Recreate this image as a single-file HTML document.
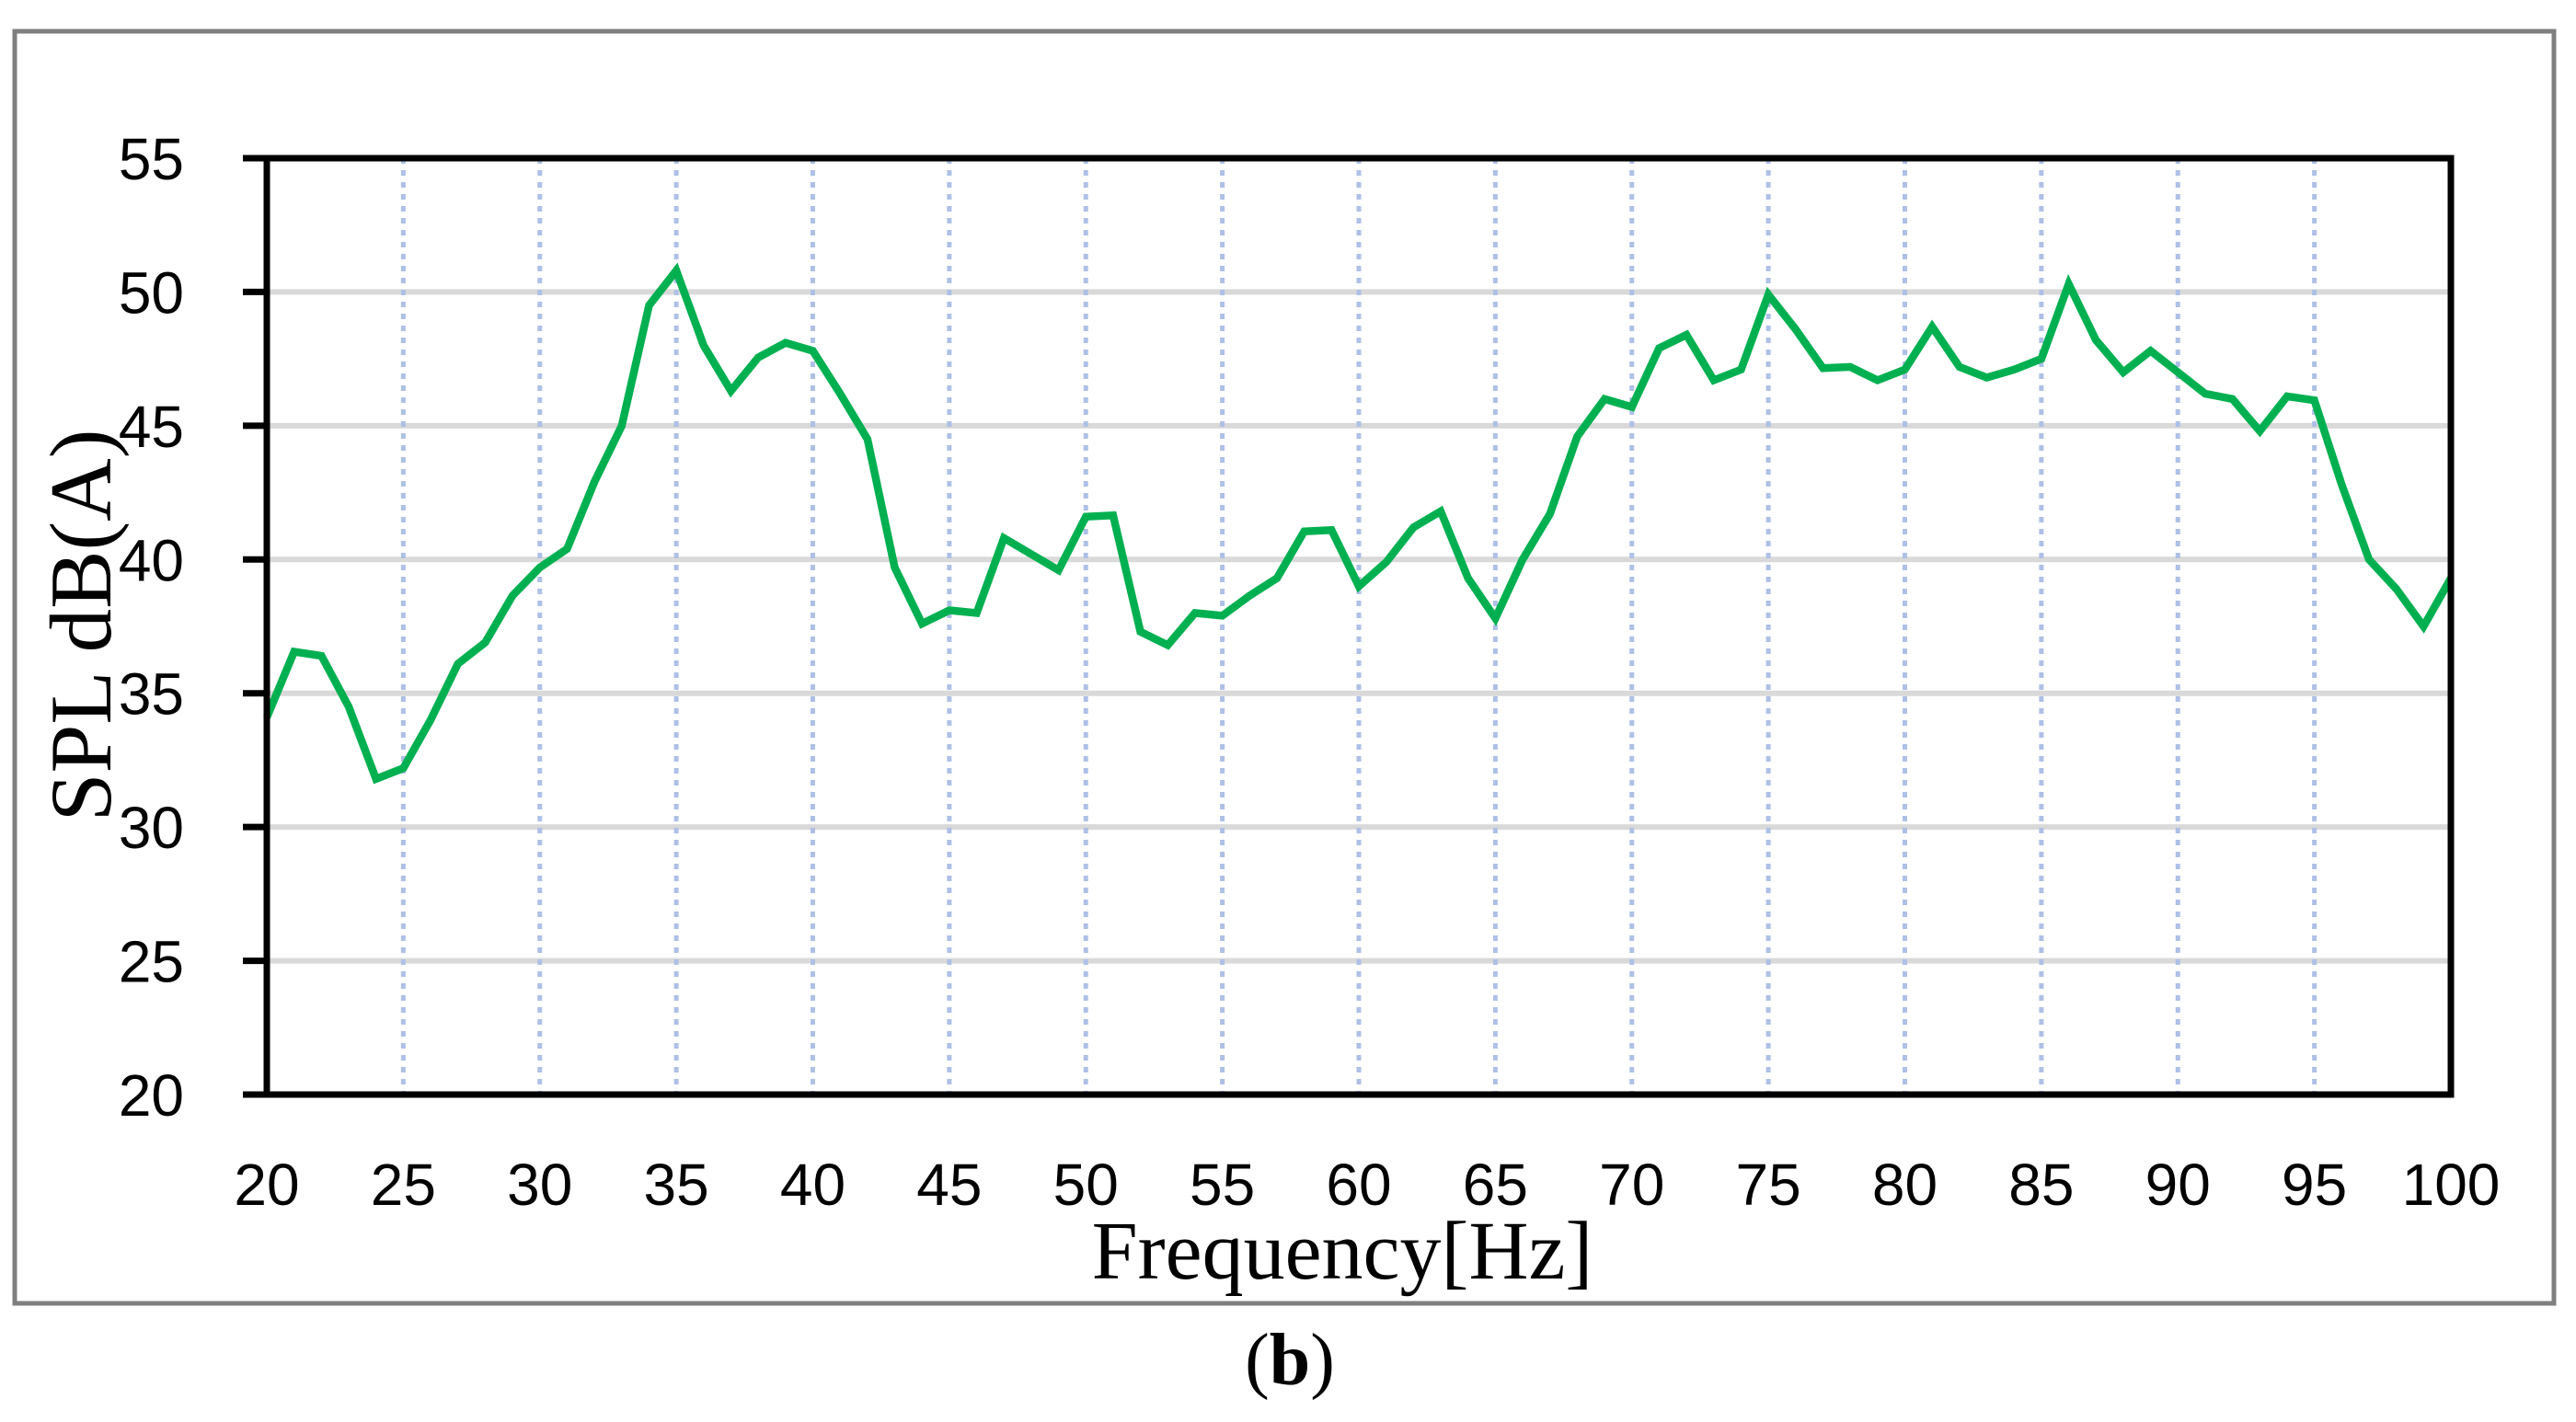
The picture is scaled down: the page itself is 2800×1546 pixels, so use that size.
<!DOCTYPE html>
<html><head><meta charset="utf-8"><style>
html,body{margin:0;padding:0;background:#fff;}
svg{display:block;}
</style></head><body>
<svg id="chart" width="2800" height="1546" viewBox="0 0 2800 1546" xmlns="http://www.w3.org/2000/svg">
<rect x="16" y="34" width="2760" height="1383" fill="#fff" stroke="#7f7f7f" stroke-width="5"/>
<g id="grid"></g>
<g id="series"></g>
<g id="axes"></g>
<text transform="translate(120,680) rotate(-90)" text-anchor="middle" font-family="Liberation Serif, serif" font-size="95">SPL  dB(A)</text>
<text x="1459" y="1390" text-anchor="middle" font-family="Liberation Serif, serif" font-size="90">Frequency[Hz]</text>
<text x="1402" y="1505" text-anchor="middle" font-family="Liberation Serif, serif" font-size="80">(<tspan font-weight="bold">b</tspan>)</text>
</svg>
<script>
const freqs = [20,21,22,23,24,25,26,27,28,29,30,31,32,33,34,35,36,37,38,39,40,41,42,43,44,45,46,47,48,49,50,51,52,53,54,55,56,57,58,59,60,61,62,63,64,65,66,67,68,69,70,71,72,73,74,75,76,77,78,79,80,81,82,83,84,85,86,87,88,89,90,91,92,93,94,95,96,97,98,99,100];
const spl = [34.1,36.55,36.4,34.5,31.8,32.2,34.0,36.1,36.9,38.65,39.7,40.4,42.9,45.0,49.5,50.8,48.0,46.3,47.55,48.1,47.8,46.2,44.5,39.7,37.6,38.1,38.0,40.8,40.2,39.6,41.6,41.65,37.3,36.8,38.0,37.9,38.65,39.3,41.05,41.1,39.0,39.9,41.2,41.8,39.3,37.8,40.0,41.7,44.6,46.0,45.7,47.9,48.4,46.7,47.1,49.9,48.6,47.15,47.2,46.7,47.1,48.7,47.2,46.8,47.1,47.5,50.3,48.2,47.0,47.8,47.0,46.2,46.0,44.8,46.1,45.95,42.8,40.0,38.9,37.5,39.3];
const yTicks = [20,25,30,35,40,45,50,55];
const xTicks = [20,25,30,35,40,45,50,55,60,65,70,75,80,85,90,95,100];

const X0=290, X1=2664, Y0=1190, Y1=172;
const xs = v => X0 + (v-20)/(100-20)*(X1-X0);
const ys = v => Y0 - (v-20)/(55-20)*(Y0-Y1);
const NS='http://www.w3.org/2000/svg';
function mk(tag, attrs, parent){const e=document.createElementNS(NS,tag);for(const k in attrs)e.setAttribute(k,attrs[k]);parent.appendChild(e);return e;}
const grid=document.getElementById('grid'), series=document.getElementById('series'), axes=document.getElementById('axes');

yTicks.forEach(t=>{
  if(t===20||t===55) return;
  const l=mk('line',{x1:X0,x2:X1,y1:ys(t),y2:ys(t),stroke:'#d9d9d9','stroke-width':6},grid);
  
  
});
xTicks.forEach(t=>{
  if(t===20||t===100) return;
  const l=mk('line',{x1:xs(t),x2:xs(t),y1:Y1,y2:Y0,stroke:'#aec0e6','stroke-width':5,'stroke-dasharray':'6 7'},grid);
  
  
});

const pts=freqs.map((f,i)=>xs(f).toFixed(1)+','+ys(spl[i]).toFixed(1)).join(' ');
const pl=mk('polyline',{points:pts,fill:'none',stroke:'#00b050','stroke-width':8.5,'stroke-linejoin':'miter','stroke-miterlimit':3},series);



const box=mk('rect',{x:X0,y:Y1,width:X1-X0,height:Y0-Y1,fill:'none',stroke:'#000','stroke-width':7},axes);



yTicks.forEach(t=>{
  const tk=mk('line',{x1:264,x2:X0,y1:ys(t),y2:ys(t),stroke:'#000','stroke-width':7},axes);
  
  
  const tx=mk('text',{x:200,y:ys(t)+23,'text-anchor':'end','font-family':'Liberation Sans, sans-serif','font-size':64},axes);
  tx.textContent=t;
  
  
});
xTicks.forEach(t=>{
  const tx=mk('text',{x:xs(t),y:1310,'text-anchor':'middle','font-family':'Liberation Sans, sans-serif','font-size':64},axes);
  tx.textContent=t;
  
  
});
</script>
</body></html>
